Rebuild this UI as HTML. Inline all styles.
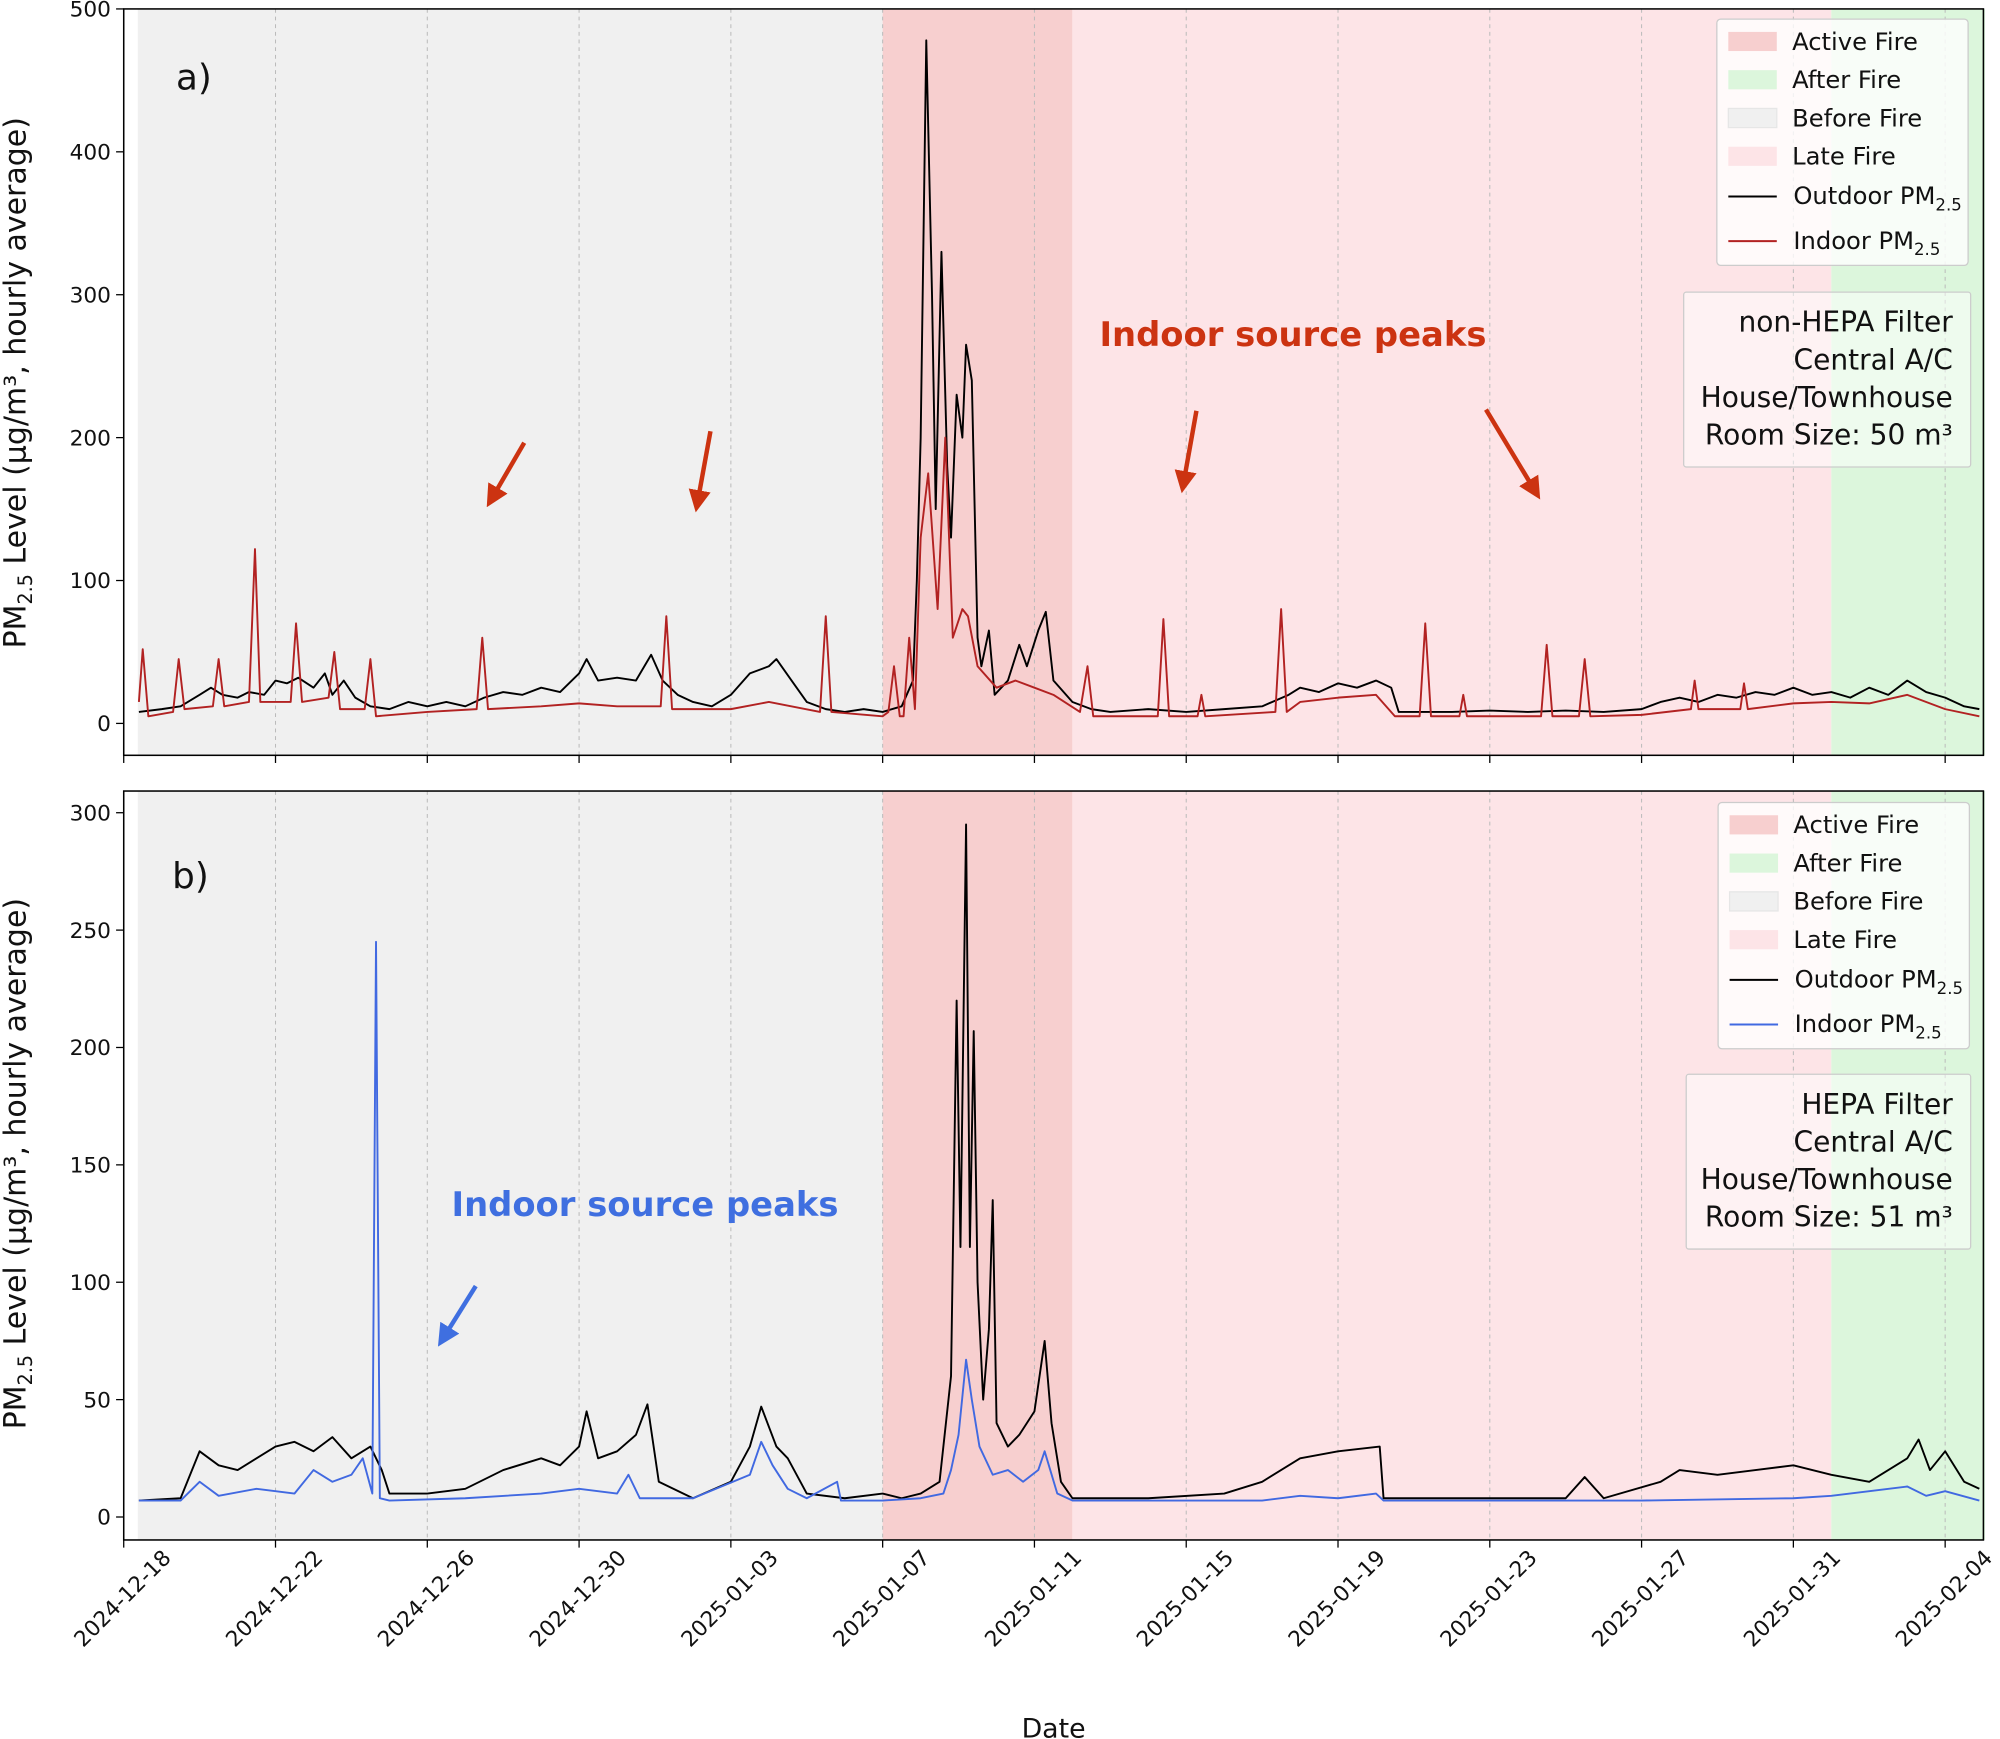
<!DOCTYPE html>
<html><head><meta charset="utf-8"><style>
html,body{margin:0;padding:0;background:#fff}
svg{display:block;font-family:"DejaVu Sans","Liberation Sans",sans-serif}
</style></head><body>
<svg id="chart" width="2000" height="1739" viewBox="0 0 1568 1363" preserveAspectRatio="none" xmlns="http://www.w3.org/2000/svg"></svg>
<script>
// ---- data (t = days since 2024-12-18) ----
const tickLabels=["2024-12-18","2024-12-22","2024-12-26","2024-12-30","2025-01-03","2025-01-07","2025-01-11","2025-01-15","2025-01-19","2025-01-23","2025-01-27","2025-01-31","2025-02-04"];
const tickDays=[0,4,8,12,16,20,24,28,32,36,40,44,48];
const phaseNames=["Before Fire","Active Fire","Late Fire","After Fire"];
const phaseStart=[0.37,20,25,45];
const phaseEnd=[20,25,45,49.05];
const yTicksA=[0,100,200,300,400,500];
const yTicksB=[0,50,100,150,200,250,300];
const outdoorA=[[0.4,8],[1,10],[1.5,12],[2,20],[2.3,25],[2.6,20],[3,18],[3.3,22],[3.7,20],[4,30],[4.3,28],[4.6,32],[5,25],[5.3,35],[5.5,20],[5.8,30],[6.1,18],[6.5,12],[7,10],[7.5,15],[8,12],[8.5,15],[9,12],[9.5,18],[10,22],[10.5,20],[11,25],[11.5,22],[12,35],[12.2,45],[12.5,30],[13,32],[13.5,30],[13.9,48],[14.2,30],[14.6,20],[15,15],[15.5,12],[16,20],[16.5,35],[17,40],[17.2,45],[17.6,30],[18,15],[18.5,10],[19,8],[19.5,10],[20,8],[20.5,12],[20.8,30],[20.9,100],[21.0,200],[21.15,478],[21.3,300],[21.4,150],[21.55,330],[21.7,180],[21.8,130],[21.95,230],[22.1,200],[22.2,265],[22.35,240],[22.5,60],[22.6,40],[22.8,65],[22.95,20],[23.3,30],[23.6,55],[23.8,40],[24.1,65],[24.3,78],[24.5,30],[25,15],[25.5,10],[26,8],[27,10],[28,8],[29,10],[30,12],[30.7,20],[31,25],[31.5,22],[32,28],[32.5,25],[33,30],[33.4,25],[33.6,8],[35,8],[36,9],[37,8],[38,9],[39,8],[40,10],[40.5,15],[41,18],[41.5,15],[42,20],[42.5,18],[43,22],[43.5,20],[44,25],[44.5,20],[45,22],[45.5,18],[46,25],[46.5,20],[47,30],[47.5,22],[48,18],[48.5,12],[48.9,10]];
const indoorA=[[0.4,15],[0.5,52],[0.65,5],[1.3,8],[1.45,45],[1.6,10],[2.35,12],[2.5,45],[2.65,12],[3.3,15],[3.46,122],[3.6,15],[4.4,15],[4.54,70],[4.7,15],[5.4,18],[5.55,50],[5.7,10],[6.35,10],[6.5,45],[6.65,5],[8,8],[9.3,10],[9.45,60],[9.6,10],[11,12],[12,14],[13,12],[14.15,12],[14.3,75],[14.45,10],[16,10],[17,15],[18.35,8],[18.5,75],[18.65,8],[20,5],[20.15,8],[20.3,40],[20.45,5],[20.55,5],[20.7,60],[20.85,10],[21.0,130],[21.2,175],[21.45,80],[21.65,200],[21.85,60],[22.1,80],[22.25,75],[22.5,40],[23,25],[23.5,30],[24,25],[24.5,20],[25.2,8],[25.4,40],[25.55,5],[27.25,5],[27.4,73],[27.55,5],[28.3,5],[28.4,20],[28.5,5],[30.35,8],[30.5,80],[30.65,8],[31,15],[32,18],[33,20],[33.5,5],[34.15,5],[34.3,70],[34.45,5],[35.2,5],[35.3,20],[35.4,5],[37.35,5],[37.5,55],[37.65,5],[38.35,5],[38.5,45],[38.65,5],[40,6],[41.3,10],[41.4,30],[41.5,10],[42.6,10],[42.7,28],[42.8,10],[44,14],[45,15],[46,14],[47,20],[48,10],[48.9,5]];
const outdoorB=[[0.4,7],[1.5,8],[2,28],[2.5,22],[3,20],[3.5,25],[4,30],[4.5,32],[5,28],[5.5,34],[6,25],[6.5,30],[6.8,20],[7,10],[8,10],[9,12],[10,20],[11,25],[11.5,22],[12,30],[12.2,45],[12.5,25],[13,28],[13.5,35],[13.8,48],[14.1,15],[15,8],[16,15],[16.5,30],[16.8,47],[17.2,30],[17.5,25],[18,10],[19,8],[20,10],[20.5,8],[21,10],[21.5,15],[21.8,60],[21.95,220],[22.05,115],[22.2,295],[22.3,115],[22.4,207],[22.5,100],[22.65,50],[22.8,80],[22.9,135],[23.0,40],[23.3,30],[23.6,35],[24.0,45],[24.27,75],[24.45,40],[24.7,15],[25,8],[27,8],[29,10],[30,15],[31,25],[32,28],[33.1,30],[33.2,8],[36,8],[38,8],[38.5,17],[39,8],[40.5,15],[41,20],[42,18],[43,20],[44,22],[45,18],[46,15],[47,25],[47.3,33],[47.6,20],[48,28],[48.5,15],[48.9,12]];
const indoorB=[[0.4,7],[1.5,7],[2,15],[2.5,9],[3.5,12],[4.5,10],[5,20],[5.5,15],[6,18],[6.3,25],[6.55,10],[6.65,245],[6.75,8],[7,7],[9,8],[11,10],[12,12],[13,10],[13.3,18],[13.6,8],[15,8],[16.5,18],[16.8,32],[17.1,22],[17.5,12],[18,8],[18.8,15],[18.9,7],[20,7],[21,8],[21.6,10],[21.8,20],[22.0,35],[22.2,67],[22.35,50],[22.55,30],[22.9,18],[23.3,20],[23.7,15],[24.1,20],[24.27,28],[24.6,10],[25,7],[30,7],[31,9],[32,8],[33,10],[33.2,7],[40,7],[44,8],[45,9],[46,11],[47,13],[47.5,9],[48,11],[48.9,7]];

// ---- layout ----
const NS="http://www.w3.org/2000/svg";
const svg=document.getElementById('chart');
const X0=97,X1=1555;
const xs=t=>97+t*29.75;
const panels=[
 {id:'a',top:7,bot:592,y:v=>567-v*1.12,ticks:yTicksA,out:outdoorA,ind:indoorA,indColor:'#b22222',label:'a)',cy:300,info:["non-HEPA Filter","Central A/C","House/Townhouse","Room Size: 50 m³"],leg:[1346,15],infoBox:[1320,229]},
 {id:'b',top:620,bot:1207,y:v=>1189-v*1.84,ticks:yTicksB,out:outdoorB,ind:indoorB,indColor:'#4169e1',label:'b)',cy:912,info:["HEPA Filter","Central A/C","House/Townhouse","Room Size: 51 m³"],leg:[1347,629],infoBox:[1322,842]}
];
const phaseColor={"Before Fire":"#f0f0f0","Active Fire":"#f7cfcf","Late Fire":"#fde4e7","After Fire":"#dcf6dc"};
function el(tag,attrs,parent){const e=document.createElementNS(NS,tag);for(const k in attrs)e.setAttribute(k,attrs[k]);(parent||svg).appendChild(e);return e;}
function txt(s,attrs,parent){const e=el('text',attrs,parent);e.textContent=s;return e;}

panels.forEach(p=>{
 const g=el('g',{});
 
 
 phaseNames.forEach((n,i)=>{
  const r=el('rect',{x:xs(phaseStart[i]),y:p.top,width:xs(phaseEnd[i])-xs(phaseStart[i]),height:p.bot-p.top,fill:phaseColor[n]},g);
  
  
 });
 tickDays.forEach(d=>{
  const l=el('line',{x1:xs(d),x2:xs(d),y1:p.top,y2:p.bot,stroke:'#bbb','stroke-width':0.8,'stroke-dasharray':'3,3'},g);
  
  
 });
 [[p.out,'#000'],[p.ind,p.indColor]].forEach(([s,c],k)=>{
  const pl=el('polyline',{points:s.map(q=>xs(q[0]).toFixed(1)+','+p.y(q[1]).toFixed(1)).join(' '),fill:'none',stroke:c,'stroke-width':1.5,'stroke-linejoin':'round'},g);
  
  
 });
 const fr=el('rect',{x:X0,y:p.top,width:X1-X0,height:p.bot-p.top,fill:'none',stroke:'#000','stroke-width':1.2},g);
 
 
 p.ticks.forEach(v=>{
  el('line',{x1:X0-6,x2:X0,y1:p.y(v),y2:p.y(v),stroke:'#000'},g);
  const t=txt(String(v),{x:X0-10,y:p.y(v)+6,'text-anchor':'end','font-size':17,fill:'#111'},g);
  
  
 });
 tickDays.forEach(d=>el('line',{x1:xs(d),x2:xs(d),y1:p.bot,y2:p.bot+6,stroke:'#000'},g));
 const yl=txt('',{transform:`translate(20,${p.cy}) rotate(-90)`,'text-anchor':'middle','font-size':23.5,fill:'#111'},g);
 yl.innerHTML='PM<tspan font-size="15" dy="5">2.5</tspan><tspan dy="-5"> Level (μg/m³, hourly average)</tspan>';
 
 
 const pl=txt(p.label,{x:p.id=='a'?138:135,y:p.id=='a'?70:696,'font-size':28,fill:'#111'},g);
 
 
 // legend
 const [lx,ly]=p.leg;
 const lg=el('g',{},g);
 
 
 el('rect',{x:lx,y:ly,width:197,height:193,rx:3,fill:'#fff','fill-opacity':0.8,stroke:'#ccc'},lg);
 const entries=["Active Fire","After Fire","Before Fire","Late Fire"];
 entries.forEach((n,i)=>{
  const yy=ly+16+i*30;
  el('rect',{x:lx+9,y:yy-6,width:38,height:15,fill:phaseColor[n],stroke:n=='Before Fire'?'#e6e6e6':'none'},lg);
  const t=txt(n,{x:lx+59,y:yy+8,'font-size':19,fill:'#111'},lg);
  
  
 });
 [["Outdoor",'#000'],["Indoor",p.indColor]].forEach(([n,c],i)=>{
  const yy=ly+139+i*35;
  el('line',{x1:lx+9,x2:lx+47,y1:yy,y2:yy,stroke:c,'stroke-width':1.5},lg);
  const t=txt('',{x:lx+60,y:yy+6,'font-size':19,fill:'#111'},lg);
  t.innerHTML=n+' PM<tspan font-size="13" dy="5">2.5</tspan>';
  
  
 });
 // info box
 const [ix,iy]=p.infoBox;
 const ib=el('g',{},g);
 
 
 el('rect',{x:ix,y:iy,width:1545-ix,height:137,rx:2,fill:'#fff','fill-opacity':0.5,stroke:'#ccc'},ib);
 p.info.forEach((s,i)=>txt(s,{x:1531,y:iy+31+i*29.5,'text-anchor':'end','font-size':22,fill:'#111'},ib));
});

// x tick labels
tickDays.forEach((d,i)=>{
 const t=txt(tickLabels[i],{transform:`translate(${xs(d)+38},${1222}) rotate(-45)`,'text-anchor':'end','font-size':17,fill:'#111'});
 
 
});
const xt=txt('Date',{x:826,y:1362,'text-anchor':'middle','font-size':21,fill:'#111'});



// annotations
const a1=txt('Indoor source peaks',{x:862,y:271,'font-size':26.5,'font-weight':'bold',fill:'#cc3311'});


const a2=txt('Indoor source peaks',{x:354,y:953,'font-size':26.5,'font-weight':'bold',fill:'#3f6fe0'});


el('defs',{}).innerHTML='<marker id="hr" markerWidth="5" markerHeight="5" refX="2.5" refY="2.5" orient="auto"><path d="M0,0 L5,2.5 L0,5 z" fill="#cc3311"/></marker><marker id="hb" markerWidth="5" markerHeight="5" refX="2.5" refY="2.5" orient="auto"><path d="M0,0 L5,2.5 L0,5 z" fill="#3f6fe0"/></marker>';
[[411,347,386,390],[557,338,547,393],[938,322,928,378],[1165,321,1203,384]].forEach(a=>{
 const l=el('line',{x1:a[0],y1:a[1],x2:a[2],y2:a[3],stroke:'#cc3311','stroke-width':3.5,'marker-end':'url(#hr)'});
 
 
});
const lb=el('line',{x1:373,y1:1008,x2:348,y2:1048,stroke:'#3f6fe0','stroke-width':3.5,'marker-end':'url(#hb)'});


</script>
</body></html>
